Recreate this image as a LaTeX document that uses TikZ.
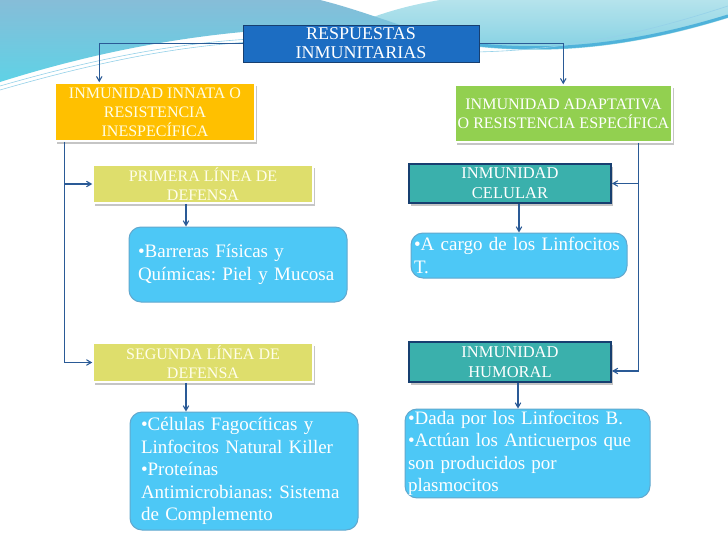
\documentclass[tikz,border=0pt]{standalone}
\usepackage{fontspec}
\setmainfont{Liberation Serif}
\usetikzlibrary{arrows,shapes}
\usetikzlibrary{shadows}
\usetikzlibrary{calc}

\definecolor{respblue}{HTML}{1C6DC2}
\definecolor{navy}{HTML}{173F70}
\definecolor{innatacol}{HTML}{FFC000}
\definecolor{adaptcol}{HTML}{92D050}
\definecolor{lineacol}{HTML}{DEDE6C}
\definecolor{tealcol}{HTML}{3AB0AC}
\definecolor{infocol}{HTML}{4DC8F6}
\definecolor{infoedge}{HTML}{62A8CE}
\definecolor{connblue}{HTML}{2A5A96}
\definecolor{bgleftA}{HTML}{86BDD8}
\definecolor{bgleftB}{HTML}{5FD2E6}
\definecolor{bgrightA}{HTML}{B5E3EC}
\definecolor{bgrightB}{HTML}{7FCFE2}
\definecolor{bgband}{HTML}{4FB2DA}

\newcommand\infofont{\fontsize{19}{22.5}\selectfont\frenchspacing\hyphenpenalty=10000\relax}

\tikzset{
  shadowed/.style={drop shadow={shadow xshift=1.5pt, shadow yshift=-2.5pt, opacity=0.45}},
  topbox/.style={draw=navy, line width=1pt, fill=respblue, text=white, align=center,
    font=\fontsize{18}{19}\selectfont, inner sep=1pt},
  hdrbox/.style={shadowed, draw=white, line width=1.5pt, fill=#1, align=center,
    font=\fontsize{16}{19}\selectfont, inner sep=1pt},
  tealbox/.style={shadowed, draw=navy, line width=2pt, fill=tealcol, text=white, align=center,
    font=\fontsize{16.5}{20}\selectfont, inner sep=1pt},
  infobox/.style={draw=infoedge, line width=1pt, fill=infocol, text=white, align=left,
    rounded corners=12pt, font=\infofont, inner ysep=2pt},
  conn/.style={->, draw=connblue, line width=1.1pt}
}

\begin{document}
\begin{tikzpicture}[x=1pt, y=-1pt, >=angle 60]
	\useasboundingbox (0,0) rectangle (728,546);
	\fill[white] (0,0) rectangle (728,546);
	% background swooshes
	\shade[top color=bgrightA, bottom color=bgrightB] (440,0) -- (728,0) -- (728,18) .. controls (650,42) and (570,56) .. (480,47) .. controls (430,42) and (385,32) .. (360,22) .. controls (385,12) and (410,5) .. (440,0) -- cycle;
	\draw[bgband, line width=3pt] (728,16) .. controls (650,40) and (570,54) .. (480,45);
	\shade[top color=bgleftA, bottom color=bgleftB] (0,0) -- (320,0) .. controls (345,6) and (380,18) .. (420,32) .. controls (330,22) and (180,25) .. (0,82) -- cycle;
	\draw[bgband!60, line width=0.6pt] (0,86) .. controls (90,60) and (170,44) .. (250,39);
	\draw[bgband!60, line width=0.6pt] (0,90) .. controls (90,64) and (170,47) .. (250,42);
	\draw[bgband!60, line width=0.6pt] (475,52) .. controls (580,50) and (660,28) .. (728,6);

	\node[topbox, minimum width=236pt, minimum height=37pt] (resp) at (361,43.5) {RESPUESTAS\\INMUNITARIAS};

	\node[hdrbox=innatacol, text=white!90!yellow, minimum width=200pt, minimum height=58pt] (innata) at (155,112) {INMUNIDAD INNATA O\\RESISTENCIA\\INESPECÍFICA};
	\node[hdrbox=adaptcol, text=white, minimum width=217pt, minimum height=57pt] (adapt) at (563.5,113.5) {INMUNIDAD ADAPTATIVA\\O RESISTENCIA ESPECÍFICA};

	\node[hdrbox=lineacol, text=white!92!yellow, minimum width=220pt, minimum height=38pt] (primera) at (203,184) {PRIMERA LÍNEA DE\\DEFENSA};
	\node[hdrbox=lineacol, text=white!92!yellow, minimum width=220pt, minimum height=39pt] (segunda) at (203,362.5) {SEGUNDA LÍNEA DE\\DEFENSA};

	\node[tealbox, minimum width=202pt, minimum height=39pt] (celular) at (510,183.5) {INMUNIDAD\\CELULAR};
	\node[tealbox, minimum width=202pt, minimum height=40pt] (humoral) at (510,362) {INMUNIDAD\\HUMORAL};

	\node[infobox, inner xsep=9pt, text width=200pt, minimum height=75pt] (barreras) at (238,264.5) {•Barreras Físicas y\\Químicas: Piel y Mucosa};
	\node[infobox, inner xsep=11pt, text width=206pt, minimum height=118pt] (celulas) at (244,471) {•Células Fagocíticas y\\Linfocitos Natural Killer\\•Proteínas\\Antimicrobianas: Sistema\\de Complemento};
	\node[infobox, inner xsep=3pt, text width=210pt, minimum height=45pt] (linft) at (519,255.5) {•A cargo de los Linfocitos\\T.};
	\node[infobox, inner xsep=3pt, text width=239pt, minimum height=83pt] (dada) at (527.5,453.5) {•Dada por los Linfocitos B.\\•Actúan los Anticuerpos que\\son producidos por\\plasmocitos};

	\draw[conn] (resp.west) -| ($(innata.north west)+(45,0)$);
	\draw[conn] (resp.east) -| ($(adapt.north west)+(109,0)$);
	\draw[conn] ($(innata.south west)+(10,0)$) |- (primera.west);
	\draw[conn] ($(innata.south west)+(10,0)$) |- (segunda.west);
	\draw[conn] ($(adapt.south east)+(-34,0)$) |- (celular.east);
	\draw[conn] ($(adapt.south east)+(-34,0)$) |- ([yshift=-9pt]humoral.east);
	\draw[conn] ([xshift=-17pt]primera.south) -- ([xshift=-17pt]primera.south |- barreras.north);
	\draw[conn] ([xshift=-17pt]segunda.south) -- ([xshift=-17pt]segunda.south |- celulas.north);
	\draw[conn] (celular.south -| linft.north) -- (linft.north);
	\draw[conn] ([xshift=8pt]humoral.south) -- ([xshift=8pt]humoral.south |- dada.north);
\end{tikzpicture}
\end{document}
